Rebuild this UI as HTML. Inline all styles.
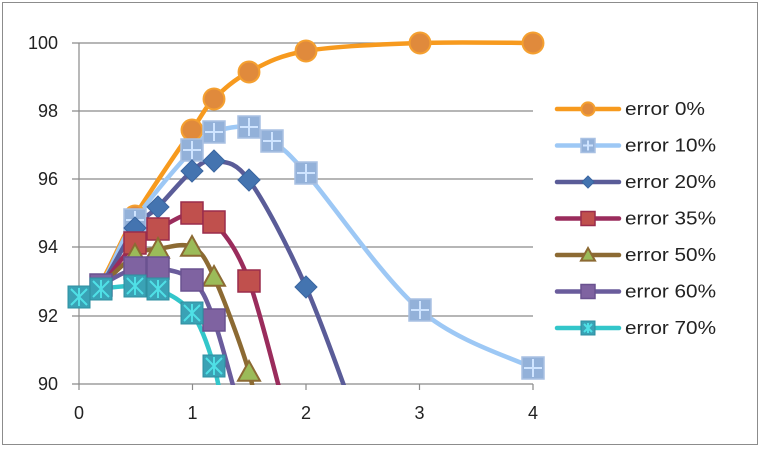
<!DOCTYPE html>
<html><head><meta charset="utf-8"><style>
html,body{margin:0;padding:0;background:#fff;}
svg{display:block;font-family:"Liberation Sans",sans-serif;}
</style></head><body>
<svg id="s" width="762" height="450" viewBox="0 0 762 450" xmlns="http://www.w3.org/2000/svg">
<rect x="2.5" y="2.5" width="755" height="442" fill="#fff" stroke="#8c8c8c" stroke-width="1"/>
<defs><clipPath id="c"><rect x="60" y="0" width="500" height="385"/></clipPath></defs>
<g stroke="#8a8a8a" stroke-width="1.2">
<line x1="72" y1="43" x2="533" y2="43"/><line x1="72" y1="111" x2="533" y2="111"/>
<line x1="72" y1="179" x2="533" y2="179"/><line x1="72" y1="247" x2="533" y2="247"/>
<line x1="72" y1="316" x2="533" y2="316"/><line x1="72" y1="384" x2="533" y2="384"/>
<line x1="79" y1="43" x2="79" y2="390"/>
<line x1="192.5" y1="384" x2="192.5" y2="390"/><line x1="306" y1="384" x2="306" y2="390"/>
<line x1="419.5" y1="384" x2="419.5" y2="390"/><line x1="533" y1="384" x2="533" y2="390"/>
</g>
<g font-size="18" fill="#222" text-anchor="end">
<text x="58" y="49">100</text><text x="58" y="117">98</text><text x="58" y="185">96</text>
<text x="58" y="253">94</text><text x="58" y="322">92</text><text x="58" y="390">90</text>
</g>
<g font-size="18" fill="#222" text-anchor="middle">
<text x="79" y="419">0</text><text x="192.5" y="419">1</text><text x="306" y="419">2</text>
<text x="419.5" y="419">3</text><text x="533" y="419">4</text>
</g>
<g id="series" clip-path="url(#c)"></g>
<g id="legend" font-size="18.5" fill="#222"></g>
</svg>
<script>
const S=[
{l:"#F79A1E",m:"#E08A3C",k:"o",p:[[79,297],[101,282],[135,216],[192,130],[214,99],[249,72],[306,51],[420,43],[533,43]],mk:[2,3,4,5,6,7,8]},
{l:"#9DC8F5",m:"#93B1D9",k:"plus",p:[[79,297],[101,285],[135,220],[192,150],[214,132],[249,127],[272,141],[306,173],[420,310],[533,368]],mk:[2,3,4,5,6,7,8,9]},
{l:"#5A5C98",m:"#4474B0",k:"d",p:[[79,297],[101,285],[135,228],[158,207],[192,171],[214,161],[249,180],[306,287],[360,430]],mk:[2,3,4,5,6,7]},
{l:"#9A2C5C",m:"#C0504D",k:"sq",p:[[79,297],[101,285],[135,243],[158,229],[192,213],[214,222],[249,281],[290,430]],mk:[2,3,4,5,6]},
{l:"#8C6A33",m:"#9BBB59",k:"t",p:[[79,297],[101,285],[135,255],[158,249],[192,247],[214,277],[249,372],[258,430]],mk:[2,3,4,5,6]},
{l:"#6A5C9C",m:"#7F63A1",k:"sq",p:[[79,297],[101,285],[135,268],[158,268],[192,280],[214,320],[245,430]],mk:[1,2,3,4,5]},
{l:"#33C6CA",m:"#3AA2B5",k:"x",p:[[79,297],[101,289],[135,286],[158,289],[192,313],[214,366],[226,430]],mk:[0,1,2,3,4,5]}
];
function path(p){let d="M"+p[0][0]+","+p[0][1];for(let i=0;i<p.length-1;i++){const a=p[i-1]||p[i],b=p[i],c=p[i+1],e=p[i+2]||c;const t=6;d+=` C${b[0]+(c[0]-a[0])/t},${b[1]+(c[1]-a[1])/t} ${c[0]-(e[0]-b[0])/t},${c[1]-(e[1]-b[1])/t} ${c[0]},${c[1]}`;}return d;}
function marker(k,x,y,col,sz){const r=sz;
if(k=="o")return `<circle cx="${x}" cy="${y}" r="${r*0.95}" fill="${col}" stroke="#F5A030" stroke-width="2"/>`;
if(k=="plus")return `<rect x="${x-r}" y="${y-r}" width="${2*r}" height="${2*r}" fill="${col}" stroke="#a9c1e3" stroke-width="1.5"/><path d="M${x-r+2},${y}H${x+r-2}M${x},${y-r+2}V${y+r-2}" stroke="#cfe4ff" stroke-width="2"/>`;
if(k=="d")return `<path d="M${x},${y-r}L${x+r},${y}L${x},${y+r}L${x-r},${y}Z" fill="${col}" stroke="#3a65a0" stroke-width="1"/>`;
if(k=="sq")return `<rect x="${x-r}" y="${y-r}" width="${2*r}" height="${2*r}" fill="${col}" stroke="${col=="#C0504D"?"#9A2C4C":"#6a5290"}" stroke-width="1.5"/>`;
if(k=="t")return `<path d="M${x},${y-r}L${x+r},${y+r*0.8}L${x-r},${y+r*0.8}Z" fill="${col}" stroke="#8C6A33" stroke-width="2"/>`;
if(k=="x")return `<rect x="${x-r}" y="${y-r}" width="${2*r}" height="${2*r}" fill="${col}" stroke="#2e8fa0" stroke-width="1"/><path d="M${x-r+3},${y-r+3}L${x+r-3},${y+r-3}M${x+r-3},${y-r+3}L${x-r+3},${y+r-3}M${x},${y-r+2}V${y+r-2}" stroke="#4fe0e6" stroke-width="2"/>`;}
let h="";for(const s of S){h+=`<path d="${path(s.p)}" fill="none" stroke="${s.l}" stroke-width="4.5" stroke-linecap="round"/>`;}
for(const s of S){for(const i of s.mk){const q=s.p[i];if(q[1]<395)h+=marker(s.k,q[0],q[1],s.m,11);}}
document.getElementById("series").innerHTML=h;
const names=["error 0%","error 10%","error 20%","error 35%","error 50%","error 60%","error 70%"];
let g="";S.forEach((s,i)=>{const y=109+i*36.5;g+=`<line x1="557" y1="${y}" x2="619" y2="${y}" stroke="${s.l}" stroke-width="4.5" stroke-linecap="round"/>`+marker(s.k,588,y,s.m,s.k=="d"?6:7)+`<text x="625" y="${y+6}" textLength="${i==0?80:91}" lengthAdjust="spacingAndGlyphs">${names[i]}</text>`;});
document.getElementById("legend").innerHTML=g;
</script>
</body></html>
